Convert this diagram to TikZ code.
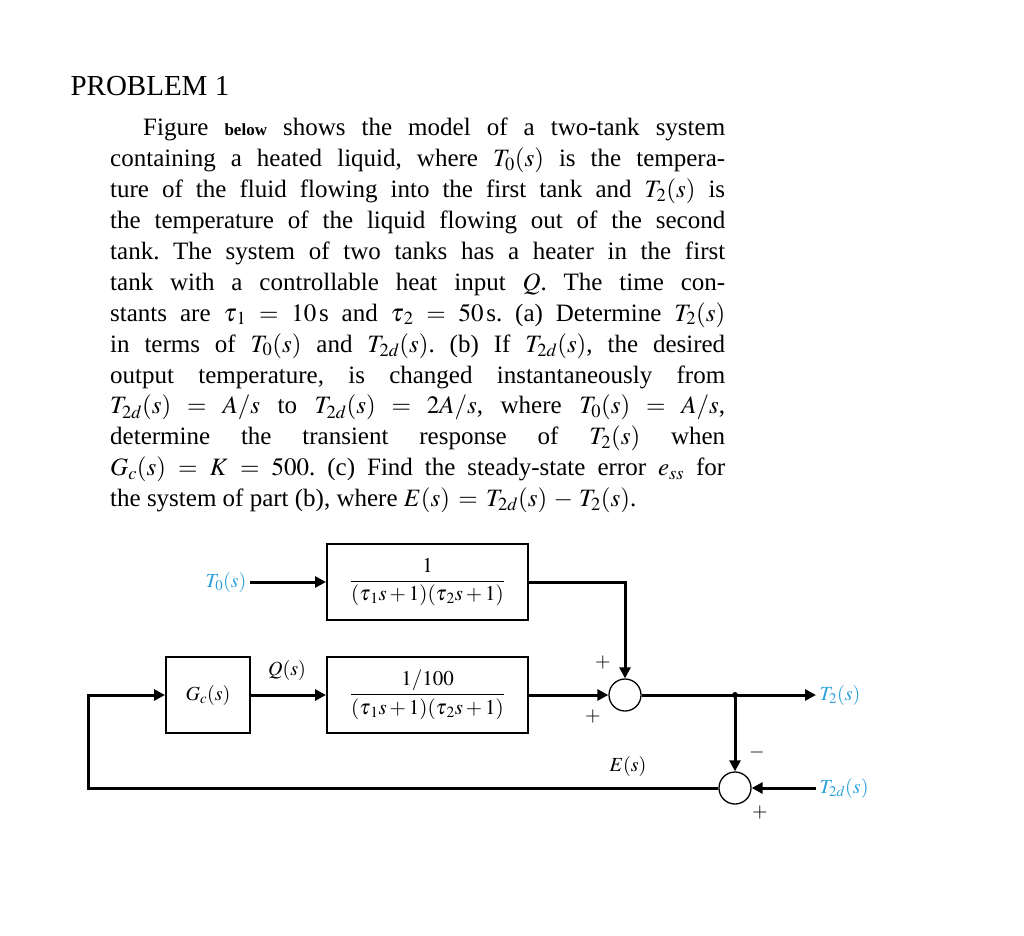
\documentclass[tikz,border=0pt]{standalone}
\usepackage{mathptmx}
\usepackage[no-math]{fontspec}
\setmainfont{Liberation Serif}
\usetikzlibrary{arrows.meta}
\definecolor{sig}{RGB}{40,160,220}
\begin{document}
\frenchspacing
\begin{tikzpicture}[x=1pt,y=-1pt,
  blk/.style={draw,line width=2pt,minimum width=201pt,minimum height=76pt,inner sep=0pt},
  sumc/.style={draw,line width=1.3pt,circle,minimum size=32pt,inner sep=0pt},
  arr/.style={line width=3pt,-{Triangle[length=11pt,width=11pt]}},
  lab/.style={font=\fontsize{20}{24}\selectfont}]
\useasboundingbox (0,0) rectangle (1024,935);
\node[anchor=west,font=\fontsize{29}{32}\selectfont] (title) at (67,86) {PROBLEM 1};
\node[anchor=north west,inner sep=0pt,text width=615pt,align=justify,font=\fontsize{25}{30.9}\selectfont] (para) at (110,118) {%
\hspace*{33pt}Figure {\bfseries\fontsize{17}{20}\selectfont below} shows the model of a two-tank system\linebreak
containing a heated liquid, where $T_0(s)$ is the tempera-\linebreak
ture of the fluid flowing into the first tank and $T_2(s)$ is\linebreak
the temperature of the liquid flowing out of the second\linebreak
tank. The system of two tanks has a heater in the first\linebreak
tank with a controllable heat input $Q$. The time con-\linebreak
stants are $\tau_{\,1}\,=\,10\,$s and $\tau_{\,2}\,=\,50\,$s. (a) Determine $T_2(s)$\linebreak
in terms of $T_0(s)$ and $T_{2d}(s)$. (b) If $T_{2d}(s)$, the desired\linebreak
output temperature, is changed instantaneously from\linebreak
$T_{2d}(s)\,=\,A/s$ to $T_{2d}(s)\,=\,2A/s$, where $T_0(s)\,=\,A/s$,\linebreak
determine the transient response of $T_2(s)$ when\linebreak
$G_c(s)\,=\,K\,=\,500$. (c) Find the steady-state error $e_{ss}$ for\linebreak
the system of part (b), where $E(s)\,=\,T_{2d}(s)\,-\,T_2(s)$.};
% diagram
\node[blk] (g1) at (427.5,582) {\fontsize{21}{24}\selectfont$\displaystyle\frac{1}{(\tau_{\,1}s+1)(\tau_{\,2}s+1)}$};
\node[blk] (g2) at (427.5,695) {\fontsize{21}{24}\selectfont$\displaystyle\frac{1/100}{(\tau_{\,1}s+1)(\tau_{\,2}s+1)}$};
\node[draw,line width=2pt,minimum width=84pt,minimum height=76pt,inner sep=0pt,lab] (gc) at (208,695) {$G_c(s)$};
\node[sumc] (s1) at (625,695) {};
\node[sumc] (s2) at (735,788) {};
\node[lab,text=sig,anchor=east] (t0) at (250,582) {$T_0(s)$};
\node[lab,text=sig,anchor=west] (t2) at (816,695) {$T_2(s)$};
\node[lab,text=sig,anchor=west] (t2d) at (816,788) {$T_{2d}(s)$};
\coordinate (j) at (735,695);
\coordinate (c1) at (625,582);
\coordinate (fl) at (88,788);
\coordinate (fu) at (88,695);
\draw[arr] (t0.east) -- (g1.west);
\draw[arr] (g1.east) -- (c1) -- (s1.north);
\draw[arr] (gc.east) -- (g2.west);
\draw[arr] (g2.east) -- (s1.west);
\draw[arr] (s1.east) -- (t2.west);
\draw[arr] (j) -- (s2.north);
\fill (j) circle (3pt);
\draw[arr] (t2d.west) -- (s2.east);
\draw[arr] (s2.west) -- (fl) -- (fu) -- (gc.west);
\node[lab] (q) at (287,670) {$Q(s)$};
\node[lab] (e) at (628,766) {$E(s)$};
\node[lab] (p1) at (603,662) {$+$};
\node[lab] (p2) at (593,716) {$+$};
\node[lab] (m1) at (757,752) {$-$};
\node[lab] (p3) at (760,812) {$+$};
\end{tikzpicture}
\end{document}
